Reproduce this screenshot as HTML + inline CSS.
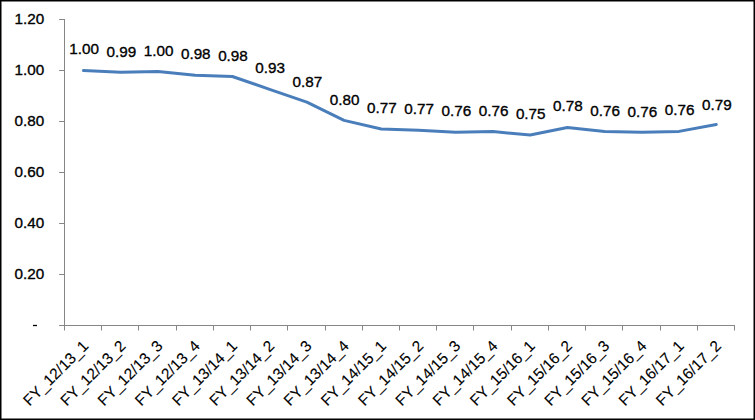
<!DOCTYPE html><html><head><meta charset="utf-8"><style>
html,body{margin:0;padding:0;background:#fff;overflow:hidden;}
svg{display:block;}
text{font-family:"Liberation Sans",sans-serif;fill:#000;stroke:#000;stroke-width:0.35px;}
</style></head><body>
<svg width="755" height="420" viewBox="0 0 755 420">
<rect x="0" y="0" width="755" height="420" fill="#fff"/>
<rect x="0.75" y="0.75" width="753.5" height="418.5" fill="none" stroke="#000" stroke-width="1.5"/>
<path d="M64.5,19.0 V330.5 M59.1,325.5 H734.96 M59.1,274.5 H64.5 M59.1,223.5 H64.5 M59.1,172.5 H64.5 M59.1,121.5 H64.5 M59.1,70.5 H64.5 M59.1,19.5 H64.5 M101.5,325.5 V330.5 M138.5,325.5 V330.5 M176.5,325.5 V330.5 M213.5,325.5 V330.5 M250.5,325.5 V330.5 M287.5,325.5 V330.5 M325.5,325.5 V330.5 M362.5,325.5 V330.5 M399.5,325.5 V330.5 M436.5,325.5 V330.5 M473.5,325.5 V330.5 M511.5,325.5 V330.5 M548.5,325.5 V330.5 M585.5,325.5 V330.5 M622.5,325.5 V330.5 M660.5,325.5 V330.5 M697.5,325.5 V330.5 M734.5,325.5 V330.5 " fill="none" stroke="#868686" stroke-width="1"/>
<rect x="33" y="324.85" width="4" height="1.3" fill="#000"/>
<text x="44.3" y="278.80" font-size="15.4" textLength="29.7" lengthAdjust="spacingAndGlyphs" text-anchor="end">0.20</text>
<text x="44.3" y="227.80" font-size="15.4" textLength="29.7" lengthAdjust="spacingAndGlyphs" text-anchor="end">0.40</text>
<text x="44.3" y="176.80" font-size="15.4" textLength="29.7" lengthAdjust="spacingAndGlyphs" text-anchor="end">0.60</text>
<text x="44.3" y="125.80" font-size="15.4" textLength="29.7" lengthAdjust="spacingAndGlyphs" text-anchor="end">0.80</text>
<text x="44.3" y="74.80" font-size="15.4" textLength="29.7" lengthAdjust="spacingAndGlyphs" text-anchor="end">1.00</text>
<text x="44.3" y="23.80" font-size="15.4" textLength="29.7" lengthAdjust="spacingAndGlyphs" text-anchor="end">1.20</text>
<polyline points="83.51,70.60 120.73,72.30 157.95,71.40 195.17,75.30 232.39,76.50 269.61,89.30 306.83,102.10 344.05,120.40 381.27,129.00 418.49,130.20 455.71,132.30 492.93,131.60 530.15,135.00 567.37,127.50 604.59,131.40 641.81,132.30 679.03,131.40 716.25,124.50" fill="none" stroke="#4A7EBB" stroke-width="3" stroke-linejoin="round" stroke-linecap="round"/>
<text x="84.11" y="54.10" font-size="15.4" textLength="29.7" lengthAdjust="spacingAndGlyphs" text-anchor="middle">1.00</text>
<text x="121.33" y="57.30" font-size="15.4" textLength="29.7" lengthAdjust="spacingAndGlyphs" text-anchor="middle">0.99</text>
<text x="158.55" y="56.30" font-size="15.4" textLength="29.7" lengthAdjust="spacingAndGlyphs" text-anchor="middle">1.00</text>
<text x="195.77" y="59.05" font-size="15.4" textLength="29.7" lengthAdjust="spacingAndGlyphs" text-anchor="middle">0.98</text>
<text x="232.99" y="60.90" font-size="15.4" textLength="29.7" lengthAdjust="spacingAndGlyphs" text-anchor="middle">0.98</text>
<text x="270.21" y="72.96" font-size="15.4" textLength="29.7" lengthAdjust="spacingAndGlyphs" text-anchor="middle">0.93</text>
<text x="307.43" y="87.06" font-size="15.4" textLength="29.7" lengthAdjust="spacingAndGlyphs" text-anchor="middle">0.87</text>
<text x="344.65" y="105.00" font-size="15.4" textLength="29.7" lengthAdjust="spacingAndGlyphs" text-anchor="middle">0.80</text>
<text x="381.87" y="113.10" font-size="15.4" textLength="29.7" lengthAdjust="spacingAndGlyphs" text-anchor="middle">0.77</text>
<text x="419.09" y="113.90" font-size="15.4" textLength="29.7" lengthAdjust="spacingAndGlyphs" text-anchor="middle">0.77</text>
<text x="456.31" y="115.90" font-size="15.4" textLength="29.7" lengthAdjust="spacingAndGlyphs" text-anchor="middle">0.76</text>
<text x="493.53" y="115.90" font-size="15.4" textLength="29.7" lengthAdjust="spacingAndGlyphs" text-anchor="middle">0.76</text>
<text x="530.75" y="118.90" font-size="15.4" textLength="29.7" lengthAdjust="spacingAndGlyphs" text-anchor="middle">0.75</text>
<text x="567.97" y="110.90" font-size="15.4" textLength="29.7" lengthAdjust="spacingAndGlyphs" text-anchor="middle">0.78</text>
<text x="605.19" y="116.00" font-size="15.4" textLength="29.7" lengthAdjust="spacingAndGlyphs" text-anchor="middle">0.76</text>
<text x="642.41" y="117.00" font-size="15.4" textLength="29.7" lengthAdjust="spacingAndGlyphs" text-anchor="middle">0.76</text>
<text x="679.63" y="115.40" font-size="15.4" textLength="29.7" lengthAdjust="spacingAndGlyphs" text-anchor="middle">0.76</text>
<text x="716.85" y="109.60" font-size="15.4" textLength="29.7" lengthAdjust="spacingAndGlyphs" text-anchor="middle">0.79</text>
<text transform="translate(59.41,376.83) rotate(-45)" font-size="15.5" text-anchor="middle" style="stroke-width:0.1px">FY_12/13_1</text>
<text transform="translate(96.63,376.83) rotate(-45)" font-size="15.5" text-anchor="middle" style="stroke-width:0.1px">FY_12/13_2</text>
<text transform="translate(133.85,376.83) rotate(-45)" font-size="15.5" text-anchor="middle" style="stroke-width:0.1px">FY_12/13_3</text>
<text transform="translate(171.07,376.83) rotate(-45)" font-size="15.5" text-anchor="middle" style="stroke-width:0.1px">FY_12/13_4</text>
<text transform="translate(208.29,376.83) rotate(-45)" font-size="15.5" text-anchor="middle" style="stroke-width:0.1px">FY_13/14_1</text>
<text transform="translate(245.51,376.83) rotate(-45)" font-size="15.5" text-anchor="middle" style="stroke-width:0.1px">FY_13/14_2</text>
<text transform="translate(282.73,376.83) rotate(-45)" font-size="15.5" text-anchor="middle" style="stroke-width:0.1px">FY_13/14_3</text>
<text transform="translate(319.95,376.83) rotate(-45)" font-size="15.5" text-anchor="middle" style="stroke-width:0.1px">FY_13/14_4</text>
<text transform="translate(357.17,376.83) rotate(-45)" font-size="15.5" text-anchor="middle" style="stroke-width:0.1px">FY_14/15_1</text>
<text transform="translate(394.39,376.83) rotate(-45)" font-size="15.5" text-anchor="middle" style="stroke-width:0.1px">FY_14/15_2</text>
<text transform="translate(431.61,376.83) rotate(-45)" font-size="15.5" text-anchor="middle" style="stroke-width:0.1px">FY_14/15_3</text>
<text transform="translate(468.83,376.83) rotate(-45)" font-size="15.5" text-anchor="middle" style="stroke-width:0.1px">FY_14/15_4</text>
<text transform="translate(506.05,376.83) rotate(-45)" font-size="15.5" text-anchor="middle" style="stroke-width:0.1px">FY_15/16_1</text>
<text transform="translate(543.27,376.83) rotate(-45)" font-size="15.5" text-anchor="middle" style="stroke-width:0.1px">FY_15/16_2</text>
<text transform="translate(580.49,376.83) rotate(-45)" font-size="15.5" text-anchor="middle" style="stroke-width:0.1px">FY_15/16_3</text>
<text transform="translate(617.71,376.83) rotate(-45)" font-size="15.5" text-anchor="middle" style="stroke-width:0.1px">FY_15/16_4</text>
<text transform="translate(654.93,376.83) rotate(-45)" font-size="15.5" text-anchor="middle" style="stroke-width:0.1px">FY_16/17_1</text>
<text transform="translate(692.15,376.83) rotate(-45)" font-size="15.5" text-anchor="middle" style="stroke-width:0.1px">FY_16/17_2</text>
</svg></body></html>
